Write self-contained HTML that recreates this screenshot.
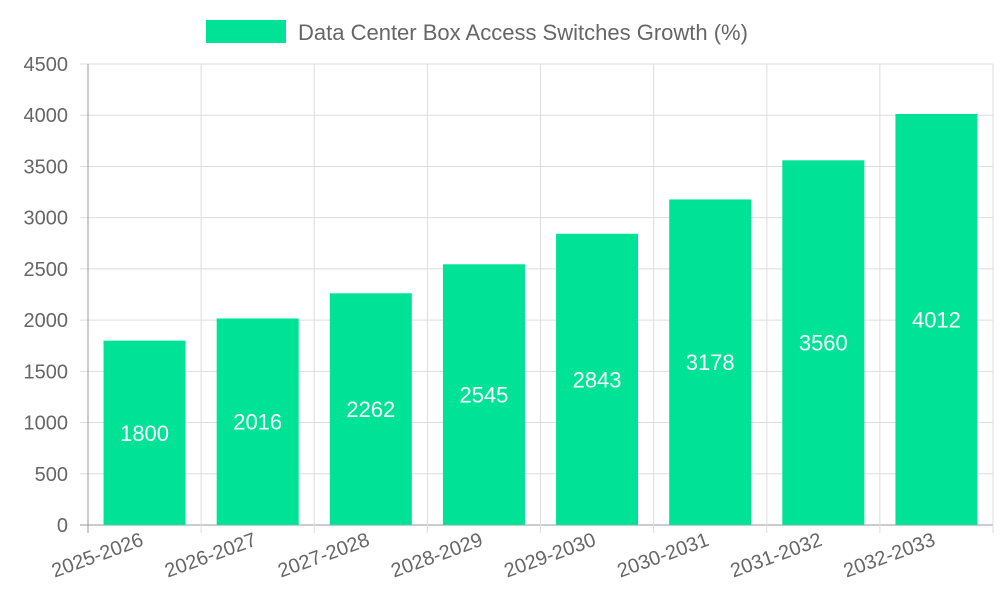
<!DOCTYPE html>
<html><head><meta charset="utf-8"><style>
body{margin:0;background:#fff;}
svg text{font-family:"Liberation Sans",sans-serif;}
</style></head><body>
<svg id="chart" width="1000" height="600">
<g>
<rect x="206" y="20" width="80" height="23" fill="#00E396"></rect>
<text x="298" y="40" font-size="22" fill="#666">Data Center Box Access Switches Growth (%)</text>
</g>
<g id="grid"></g><g id="bars"></g><g id="axes"></g>
</svg>
<script>
const categories=["2025-2026","2026-2027","2027-2028","2028-2029","2029-2030","2030-2031","2031-2032","2032-2033"];
const values=[1800,2016,2262,2545,2843,3178,3560,4012];
const yTicks=[0,500,1000,1500,2000,2500,3000,3500,4000,4500];
const NS="http://www.w3.org/2000/svg";
const L=88,R=993,T=64,B=525,yMax=4500;
const bw=(R-L)/categories.length;
const y=v=>B-(v/yMax)*(B-T);
const x=i=>L+bw*i;
function mk(tag,attrs,parent,txt){const e=document.createElementNS(NS,tag);for(const k in attrs)e.setAttribute(k,attrs[k]);if(txt!==undefined)e.textContent=txt;parent.appendChild(e);return e;}
const grid=document.getElementById('grid'),bars=document.getElementById('bars'),axes=document.getElementById('axes');
yTicks.forEach(t=>{
 const g=mk('line',{x1:L-8,x2:R,y1:y(t),y2:y(t),stroke:t===0?'#999':'#ddd','stroke-width':1},grid);
 
 
 const lb=mk('text',{x:L-20,y:y(t)+7,'text-anchor':'end','font-size':20,fill:'#666'},axes,String(t));
 
 
});
for(let i=0;i<=categories.length;i++){
 const g=mk('line',{x1:x(i),x2:x(i),y1:T,y2:B+8,stroke:i===0?'#999':'#ddd','stroke-width':1},grid);
 
 
}
categories.forEach((c,i)=>{
 const cx=x(i)+bw/2,w=82;
 const r=mk('rect',{x:cx-w/2,y:y(values[i]),width:w,height:B-y(values[i]),fill:'#00E396'},bars);
 
 
 const v=mk('text',{x:cx,y:(y(values[i])+B)/2+8,'text-anchor':'middle','font-size':22,fill:'#fff'},bars,String(values[i]));
 
 
 const lb=mk('text',{x:cx,y:545,'text-anchor':'end','font-size':20,fill:'#666',transform:`rotate(-20 ${cx} 545)`},axes,c);
 
 
});
</script>
</body></html>
